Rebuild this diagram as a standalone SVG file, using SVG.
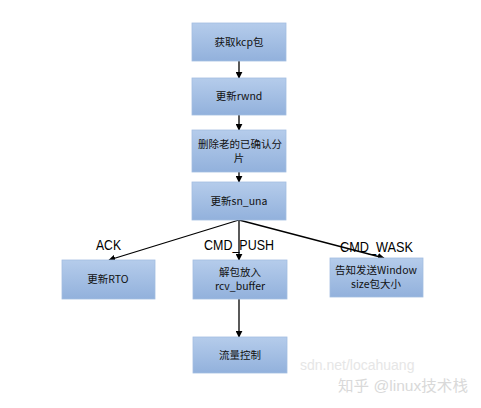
<svg xmlns="http://www.w3.org/2000/svg" width="481" height="408" viewBox="0 0 481 408">
<defs>
<linearGradient id="g" x1="0" y1="0" x2="0" y2="1">
<stop offset="0" stop-color="#b5cceb"/>
<stop offset="1" stop-color="#92b1dc"/>
</linearGradient>
<marker id="ah" viewBox="0 0 10 10" refX="9" refY="5" markerWidth="7" markerHeight="7" markerUnits="userSpaceOnUse" orient="auto">
<path d="M0,0 L10,5 L0,10 z" fill="#000"/>
</marker>
<style>
.box{fill:url(#g);stroke:#a3bde2;stroke-width:0.8}
.t{font-family:"Noto Sans CJK SC","Liberation Sans",sans-serif;font-size:10.5px;fill:#111;text-anchor:middle}
.lbl{font-family:"Liberation Sans","Noto Sans CJK SC",sans-serif;font-size:15px;fill:#000}
.c{stroke:#000;stroke-width:1.3;fill:none;marker-end:url(#ah)}
.wm{font-family:"Liberation Sans","Noto Sans CJK SC",sans-serif}
</style>
</defs>
<rect width="481" height="408" fill="#fff"/>
<g id="connectors">
<line class="c" x1="239" y1="61" x2="239" y2="78"/>
<line class="c" x1="239" y1="115" x2="239" y2="130"/>
<line class="c" x1="239" y1="172" x2="239" y2="182"/>
<line class="c" x1="239" y1="220" x2="109" y2="260"/>
<line class="c" x1="239" y1="220" x2="239" y2="260"/>
<line class="c" x1="239" y1="220" x2="384" y2="258"/>
<line class="c" x1="239" y1="299" x2="239" y2="337"/>
<text class="lbl" x="96" y="250" textLength="25" lengthAdjust="spacingAndGlyphs">ACK</text>
<text class="lbl" x="204" y="250" textLength="70" lengthAdjust="spacingAndGlyphs">CMD_PUSH</text>
<text class="lbl" x="340" y="252" textLength="73" lengthAdjust="spacingAndGlyphs">CMD_WASK</text>
</g>
<g id="n1"><rect class="box" x="192" y="23" width="94" height="38"/><text class="t" x="239" y="46">获取kcp包</text></g>
<g id="n2"><rect class="box" x="192" y="78" width="94" height="37"/><text class="t" x="239" y="100">更新rwnd</text></g>
<g id="n3"><rect class="box" x="192" y="130" width="94" height="42"/><text class="t" x="240" y="148">删除老的已确认分</text><text class="t" x="239" y="162">片</text></g>
<g id="n4"><rect class="box" x="192" y="182" width="94" height="38"/><text class="t" x="239" y="205">更新sn_una</text></g>
<g id="n5"><rect class="box" x="62" y="260" width="93" height="39"/><text class="t" x="108" y="283">更新RTO</text></g>
<g id="n6"><rect class="box" x="193" y="260" width="94" height="39"/><text class="t" x="240" y="276">解包放入</text><text class="t" x="240" y="290">rcv_buffer</text></g>
<g id="n7"><rect class="box" x="330" y="258" width="93" height="39"/><text class="t" x="376" y="274">告知发送Window</text><text class="t" x="376" y="288">size包大小</text></g>
<g id="n8"><rect class="box" x="193" y="337" width="94" height="36"/><text class="t" x="240" y="359">流量控制</text></g>
<text class="wm" x="300" y="370" font-size="14" fill="#e6e6e6">sdn.net/locahuang</text>
<text class="wm" x="338" y="391" font-size="15" fill="#d9d9d9" textLength="130" lengthAdjust="spacingAndGlyphs">知乎 @linux技术栈</text>
</svg>
